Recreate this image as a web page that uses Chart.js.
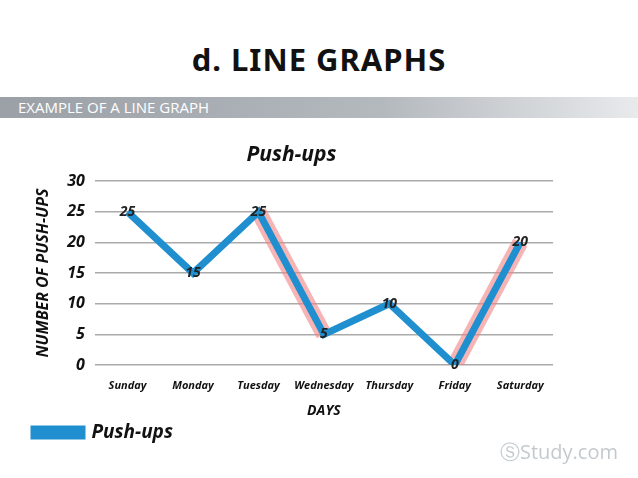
<!DOCTYPE html>
<html><head><meta charset="utf-8">
<script src="https://cdn.jsdelivr.net/npm/chart.js@4"></script>
<style>
body{margin:0;width:638px;height:478px;background:#fff;overflow:hidden;font-family:"Open Sans",sans-serif;position:relative}
#h{position:absolute;top:38px;width:100%;text-align:center;font:bold 31px "Noto Sans",sans-serif;color:#111;letter-spacing:1px}
#band{position:absolute;top:97px;left:0;width:638px;height:21px;background:linear-gradient(90deg,#9aa0a6,#b4b9be 60%,#e8eaec);color:#fff;font:15px "Open Sans",sans-serif;line-height:21px;padding-left:18px;box-sizing:border-box}
#wrap{position:absolute;top:122px;left:0;width:638px;height:330px}
#wm{position:absolute;left:500px;top:438px;font:20px "Open Sans",sans-serif;color:rgba(190,195,200,0.9)}
</style></head><body>
<div id="h">d. LINE GRAPHS</div>
<div id="band">EXAMPLE OF A LINE GRAPH</div>
<div id="wrap"><canvas id="c"></canvas></div>
<div id="wm">&#9416;Study.com</div>
<script>
var days = ["Sunday","Monday","Tuesday","Wednesday","Thursday","Friday","Saturday"];
var pushups = [25,15,25,5,10,0,20];
var highlight = [null,null,25,5,null,0,20];

var labelPlugin = {
	id:'labels',
	afterDatasetsDraw:function(chart){
		var ctx = chart.ctx, meta = chart.getDatasetMeta(0);
		ctx.save();
		ctx.font = 'bold italic 14px "Open Sans"';
		ctx.fillStyle = '#222';
		ctx.textAlign = 'center';ctx.textBaseline = 'middle';
		meta.data.forEach(function(p,i){ ctx.fillText(pushups[i],p.x,p.y); });
		ctx.restore();
	}
};

var ctx = document.getElementById('c').getContext('2d');
new Chart(ctx,{
	type:'line',
	data:{
		labels:days,
		datasets:[
			{label:'Push-ups',data:pushups,borderColor:'#1f8fd0',backgroundColor:'#1f8fd0',borderWidth:7,pointRadius:0,tension:0,order:1},
			{label:'hl',data:highlight,borderColor:'rgba(240,130,130,0.6)',borderWidth:16,pointRadius:0,spanGaps:false,order:2}
		]
	},
	options:{
		responsive:true,maintainAspectRatio:false,animation:false,
		layout:{padding:{left:30,right:85,top:0,bottom:0}},
		plugins:{
			title:{display:true,text:'Push-ups',color:'#111',font:{family:'Open Sans',size:21,weight:'bold',style:'italic'},padding:{top:20,bottom:14}},
			legend:{position:'bottom',align:'start',labels:{filter:function(l){return l.datasetIndex===0},color:'#111',font:{family:'Open Sans',size:19,weight:'bold',style:'italic'},boxWidth:48,boxHeight:7,padding:4}},
			tooltip:{enabled:false}
		},
		scales:{
			x:{offset:true,grid:{display:false},border:{display:false},
				ticks:{autoSkip:false,color:'#111',font:{family:'Open Sans',size:11,weight:'bold',style:'italic'},padding:6,maxRotation:0},
				title:{display:true,text:'DAYS',color:'#111',font:{family:'Open Sans',size:14,weight:'bold',style:'italic'},padding:{top:4,bottom:0}}},
			y:{min:0,max:30,grid:{color:'#aaa',lineWidth:1.5,drawTicks:false},border:{display:false},
				ticks:{stepSize:5,color:'#111',font:{family:'Open Sans',size:16,weight:'bold',style:'italic'},padding:10},
				title:{display:true,text:'NUMBER OF PUSH-UPS',color:'#111',font:{family:'Open Sans',size:16,weight:'bold',style:'italic'}}}
		}
	},
	plugins:[labelPlugin]
});
</script>
</body></html>
